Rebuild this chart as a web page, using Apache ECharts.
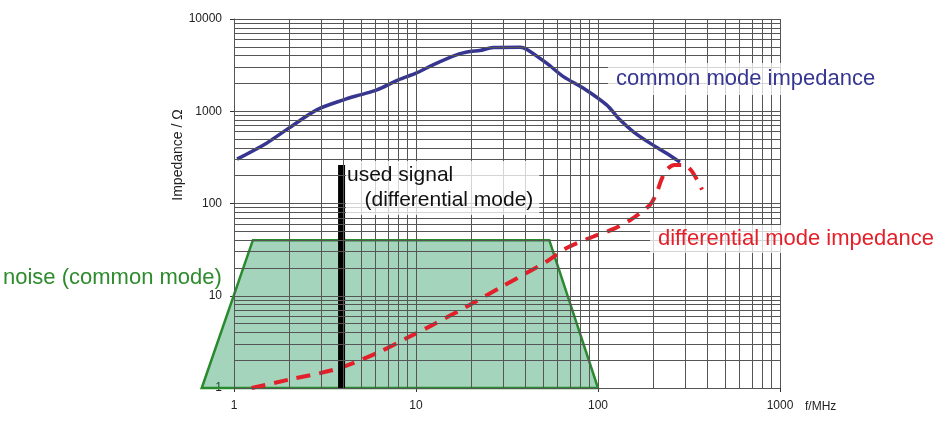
<!DOCTYPE html>
<html><head><meta charset="utf-8">
<script src="https://cdn.jsdelivr.net/npm/echarts@6/dist/echarts.min.js"></script>
<style>html,body{margin:0;padding:0;background:#fff}#c{width:943px;height:429px}</style>
</head><body><div id="c"></div>
<script>
// ---- data ----
const xTicks = [1, 10, 100, 1000];
const yTicks = [1, 10, 100, 1000, 10000];
const cmFreq = [1.04, 1.51, 2.0, 2.85, 4.0, 4.93, 6.1, 8.0, 10, 12.4, 16.7, 19.8, 22.4, 26.6, 37.3, 40.5, 52.2, 64.5, 83.2, 111.5, 132, 156, 193, 238, 282];
const cmImp  = [303, 451, 656, 1036, 1330, 1506, 1707, 2188, 2586, 3185, 4083, 4433, 4548, 4908, 4948, 4710, 3320, 2376, 1778, 1172, 807, 603, 451, 351, 281];
const dmFreq = [1.25, 2.0, 3.67, 6.1, 8.9, 12.4, 19.8, 28.9, 52.2, 67.3, 94.5, 121, 156, 193, 210, 223, 238, 263, 297, 323, 350, 373];
const dmImp  = [1.0, 1.23, 1.61, 2.39, 3.48, 4.85, 7.98, 12.2, 23.5, 32.9, 43.9, 52.7, 69.5, 96.8, 130, 181, 232, 262, 262, 232, 181, 141];
const noiseFreq  = [0.665, 1.27, 54, 100];
const noiseLevel = [1, 40, 40, 1];
const signalFreq  = [3.9, 3.9];
const signalLevel = [1, 262];

const zip = (a, b) => a.map((v, i) => [v, b[i]]);
// log grid lines: 1..9 per decade
const decadeLines = (lo, hi) => { const r = []; for (let d = lo; d < hi; d *= 10) for (let k = 1; k <= 9; k++) r.push(k * d); r.push(hi); return r; };
const xGrid = decadeLines(1, 1000);
const yGrid = decadeLines(1, 10000);

const chart = echarts.init(document.getElementById('c'), null, {renderer: 'canvas'});
const FONT = 'Liberation Sans, Arial, sans-serif';
chart.setOption({
  animation: false,
  backgroundColor: '#fff',
  grid: {left: 234, right: 163, top: 19, bottom: 41, containLabel: false, outerBoundsMode: 'none'},
  xAxis: {
    type: 'log', logBase: 10, min: 1, max: 1000,
    axisLine: {show: true, lineStyle: {color: '#333', width: 1}},
    axisTick: {show: true, length: 4, lineStyle: {color: '#333'}, customValues: xTicks},
    axisLabel: {margin: 12, color: '#222', fontSize: 12, fontFamily: FONT, customValues: xTicks, formatter: v => String(Math.round(v))},
    splitLine: {show: false}, minorTick: {show: false}
  },
  yAxis: {
    type: 'log', logBase: 10, min: 1, max: 10000,
    axisLine: {show: true, lineStyle: {color: '#333', width: 1}},
    axisTick: {show: true, length: 4, lineStyle: {color: '#333'}, customValues: yTicks},
    axisLabel: {margin: 12, color: '#222', fontSize: 12, fontFamily: FONT, customValues: yTicks, formatter: v => String(Math.round(v))},
    splitLine: {show: false}, minorTick: {show: false}
  },
  series: [
    {
      type: 'line', data: [], silent: true, showSymbol: false,
      markLine: {
        silent: true, symbol: ['none', 'none'], label: {show: false}, animation: false,
        lineStyle: {color: '#555', width: 1, type: 'solid'},
        emphasis: {disabled: true},
        data: xGrid.map(v => ({xAxis: v})).concat(yGrid.map(v => ({yAxis: v})))
      }
    },
    {
      name: 'noise', type: 'custom', coordinateSystem: 'cartesian2d', clip: false, silent: true,
      data: [[noiseFreq[1], noiseLevel[1]]],
      encode: {x: 0, y: 1},
      renderItem: (params, api) => {
        const pts = noiseFreq.map((f, i) => api.coord([f, noiseLevel[i]]));
        return {
          type: 'polygon', shape: {points: pts},
          style: {fill: 'rgba(17,142,80,0.38)', stroke: '#2a8a2e', lineWidth: 2.5, lineJoin: 'miter'}
        };
      }
    },
    {
      name: 'differential mode impedance', type: 'line', data: zip(dmFreq, dmImp), clip: false,
      showSymbol: false, symbol: 'none', smooth: 0.3,
      lineStyle: {color: '#e3202a', width: 4, type: [14, 9], cap: 'butt'}
    },
    {
      name: 'used signal', type: 'line', data: zip(signalFreq, signalLevel),
      showSymbol: false, symbol: 'none',
      lineStyle: {color: '#000', width: 7, cap: 'butt'}
    },
    {
      name: 'common mode impedance', type: 'line', data: zip(cmFreq, cmImp),
      showSymbol: false, symbol: 'none', smooth: 0.3,
      lineStyle: {color: '#363692', width: 3.5}
    }
  ],
  graphic: [
    {type: 'text', x: 178, y: 155, rotation: Math.PI / 2, z: 100,
     style: {text: 'Impedance / Ω', fill: '#222', font: '14px ' + FONT, textAlign: 'center', verticalAlign: 'middle'}},
    {type: 'text', x: 805, y: 407, z: 100,
     style: {text: 'f/MHz', fill: '#222', font: '12px ' + FONT, textAlign: 'left', verticalAlign: 'middle'}},
    {type: 'text', x: 608, y: 79, z: 100,
     style: {text: 'common mode impedance', fill: '#363692', font: '22px ' + FONT, textAlign: 'left', verticalAlign: 'middle',
             backgroundColor: 'rgba(255,255,255,0.75)', padding: [5, 8, 5, 8]}},
    {type: 'text', x: 650, y: 239, z: 100,
     style: {text: 'differential mode impedance', fill: '#e3202a', font: '22px ' + FONT, textAlign: 'left', verticalAlign: 'middle',
             backgroundColor: 'rgba(255,255,255,0.75)', padding: [3, 8, 3, 8]}},
    {type: 'text', x: 346, y: 188, z: 100,
     style: {text: 'used signal\n   (differential mode)', fill: '#111', font: '21px ' + FONT, lineHeight: 25, textAlign: 'left', verticalAlign: 'middle',
             backgroundColor: 'rgba(255,255,255,0.75)', padding: [2, 6, 2, 1]}},
    {type: 'text', x: 3, y: 278, z: 100,
     style: {text: 'noise (common mode)', fill: '#2e8b2e', font: '22px ' + FONT, textAlign: 'left', verticalAlign: 'middle'}}
  ]
});
</script></body></html>
